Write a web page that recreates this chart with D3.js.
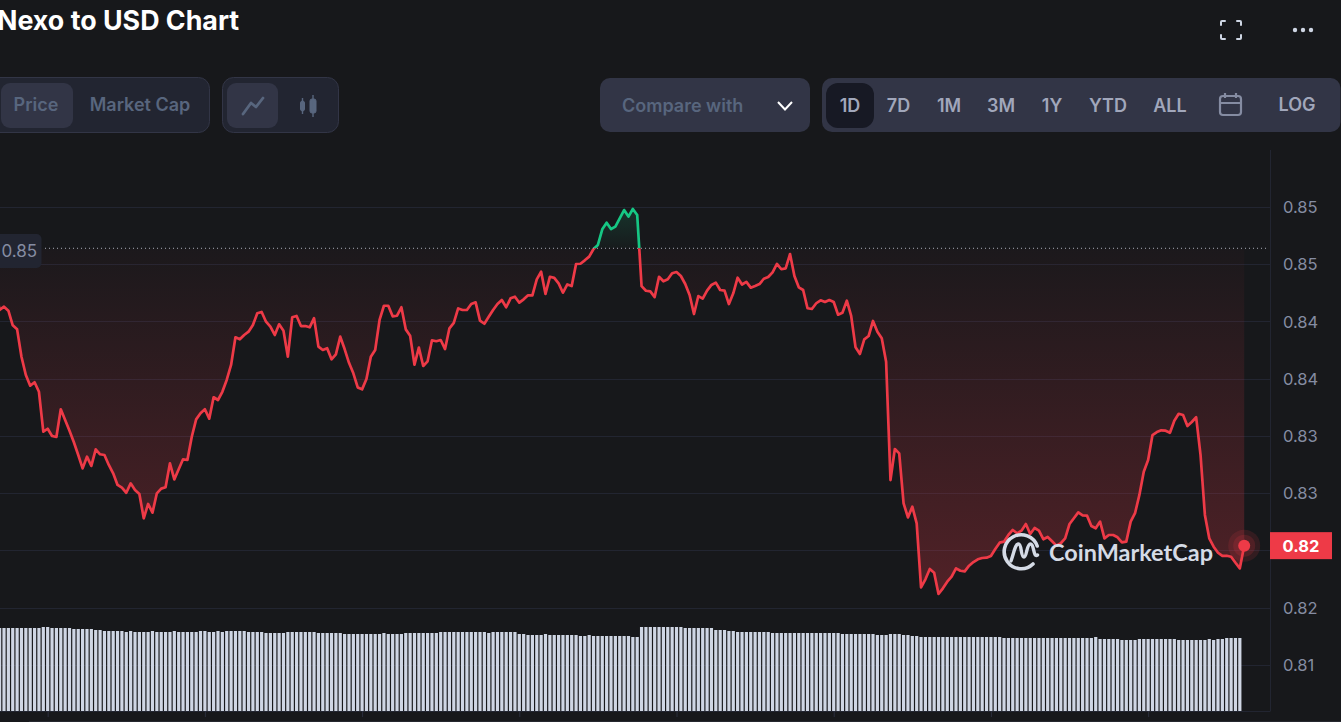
<!DOCTYPE html>
<html><head><meta charset="utf-8">
<script src="https://cdn.jsdelivr.net/npm/d3@7"></script>
<style>
html,body{margin:0;padding:0;background:#17181b;overflow:hidden}
svg{display:block;font-family:Inter,"Noto Sans",sans-serif}
</style></head><body><div id="chart"></div>
<script>
const chartTitle = "Nexo to USD Chart";
const metricLabels = ["Price", "Market Cap"];
const rangeLabels = ["1D", "7D", "1M", "3M", "1Y", "YTD", "ALL"];
const yTickValues = [0.85, 0.845, 0.84, 0.835, 0.83, 0.825, 0.82, 0.815, 0.81];
const yTickLabels = ["0.85", "0.85", "0.84", "0.84", "0.83", "0.83", "0.82", "0.82", "0.81"];
const xTickIndexes = [12, 48, 84, 120, 156, 192, 228, 264];
const baselinePrice = 0.84642;
const baselineLabel = "0.85";
const prices = [
.84278,.84103,.84132,.84097,.83969,.83934,.83695,.83535,.83442,.83472,
.83389,.83040,.83066,.83003,.82994,.83236,.83142,.83049,.82948,.82837,
.82720,.82822,.82741,.82886,.82843,.82837,.82750,.82677,.82575,.82551,
.82507,.82589,.82531,.82496,.82284,.82409,.82333,.82502,.82543,.82555,
.82764,.82624,.82712,.82799,.82793,.82996,.83148,.83201,.83236,.83154,
.83341,.83317,.83389,.83492,.83623,.83865,.83847,.83885,.83914,.83972,
.84074,.84086,.84001,.83957,.83885,.83978,.83922,.83695,.84039,.84051,
.83963,.83963,.83952,.84032,.83783,.83754,.83769,
.83672,.83716,.83870,.83762,.83642,.83550,.83427,.83410,.83500,.83695,.83754,
.84016,.84140,.84140,.84048,.84053,.84127,.83934,.83879,.83625,.83774,
.83614,.83655,.83838,.83830,.83841,.83762,.83943,.83990,.84117,.84103,
.84103,.84155,.84170,.84010,.83983,.84044,.84103,.84155,.84190,.84127,
.84205,.84219,.84167,.84196,.84231,.84231,.84371,.84437,.84243,.84393,
.84384,.84335,.84254,.84326,.84312,.84505,.84507,.84537,.84569,.84636,
.84671,.84808,.84866,.84810,.84831,.84904,.84976,.84919,.84985,.84933,
.84312,.84271,.84266,.84216,.84393,
.84354,.84371,.84424,.84435,.84400,.84330,.84234,.84068,.84225,.84202,
.84272,.84322,.84342,.84278,.84272,.84155,.84249,.84385,.84326,.84349,
.84298,.84313,.84330,.84376,.84391,.84432,.84505,.84459,.84467,.84592,
.84400,.84301,.84278,.84118,.84112,.84162,.84188,.84173,.84190,.84173,
.84062,.84079,.84184,.84051,.83777,.83719,.83847,.83876,.84007,.83914,
.83856,.83651,
.82618,.82889,.82851,.82415,.82292,.82385,.82240,.81681,.81751,.81841,
.81809,.81623,.81672,.81730,.81774,.81847,.81826,.81821,.81870,.81902,
.81926,.81937,.81940,.81955,.82016,.82071,.82080,.82138,.82182,.82153,
.82176,.82234,.82147,.82199,.82176,.82101,.82121,.82083,.82045,.82066,
.82109,.82234,.82284,.82336,.82310,.82307,.82217,.82197,.82255,.82109,
.82138,.82138,.82118,.82074,.82080,.82255,.82328,.82488,.82691,.82793,
.83011,.83037,.83052,.83049,.83031,.83136,.83197,.83186,.83090,.83125,
.83166,.82837,.82313,.82109,.82036,.81983,.81955,.81957,.81948,.81896,
.81847,.82045];
const volumes = [
83,83,83,83,83,83,83,83,83,83,83,84,84,83,83,83,83,83,82,82,82,82,82,81,81,
80,80,80,80,80,79,80,79,79,79,79,80,79,79,79,79,80,79,79,79,79,79,80,80,79,79,80,79,
80,80,80,80,80,79,79,79,79,78,78,78,78,78,79,79,79,79,79,79,79,78,78,78,78,78,78,
77,77,77,77,77,77,77,77,77,78,77,77,77,77,78,78,78,78,78,78,78,78,
79,79,79,79,79,79,79,79,79,79,79,78,79,79,79,79,79,79,77,77,76,76,76,76,77,
76,76,76,76,76,76,76,75,75,76,75,75,75,75,75,75,75,75,75,74,74,
84,84,84,84,84,84,84,84,84,84,83,83,83,83,83,83,83,81,81,81,80,80,
79,79,79,79,79,79,79,79,78,78,78,78,78,78,78,78,78,78,78,78,78,78,78,78,
77,77,77,77,77,77,77,77,76,76,76,77,77,77,76,76,75,75,
74,74,74,74,74,74,74,74,74,74,74,74,74,74,74,74,74,74,74,
73,73,73,73,73,73,73,73,73,73,73,73,73,73,73,73,73,73,73,73,73,74,
72,72,72,72,72,71,71,71,71,72,72,72,72,72,72,72,72,72,71,71,71,71,71,71,71,72,71,72,72,73,73,73,73];

const W = 1341, H = 722;
const BG = "#17181b", RED = "#ee3a47", GREEN = "#16c784", GRID = "#222531";
const x = d3.scaleLinear().domain([0, prices.length - 1]).range([-4.73, 1244.2]);
const y = d3.scaleLinear().domain([0.81, 0.85]).range([665.3, 207.3]);
const yVol = d3.scaleLinear().domain([0, 84]).range([711, 627]);
const PLOT_R = 1270.5, PLOT_B = 711, PLOT_T = 150;
const baseY = y(baselinePrice);

const svg = d3.select("#chart").append("svg").attr("width", W).attr("height", H);
svg.append("rect").attr("width", W).attr("height", H).attr("fill", BG);
const defs = svg.append("defs");

const gradRed = defs.append("linearGradient").attr("id", "gRed").attr("gradientUnits", "userSpaceOnUse")
  .attr("x1", 0).attr("x2", 0).attr("y1", baseY).attr("y2", y(d3.min(prices)));
gradRed.append("stop").attr("offset", 0).attr("stop-color", RED).attr("stop-opacity", 0.02);
gradRed.append("stop").attr("offset", 1).attr("stop-color", RED).attr("stop-opacity", 0.27);
const gradGreen = defs.append("linearGradient").attr("id", "gGreen").attr("gradientUnits", "userSpaceOnUse")
  .attr("x1", 0).attr("x2", 0).attr("y1", y(d3.max(prices))).attr("y2", baseY);
gradGreen.append("stop").attr("offset", 0).attr("stop-color", GREEN).attr("stop-opacity", 0.16);
gradGreen.append("stop").attr("offset", 1).attr("stop-color", GREEN).attr("stop-opacity", 0.02);
defs.append("clipPath").attr("id", "above").append("rect").attr("x", 0).attr("y", 0).attr("width", PLOT_R).attr("height", baseY);
defs.append("clipPath").attr("id", "below").append("rect").attr("x", 0).attr("y", baseY).attr("width", PLOT_R).attr("height", PLOT_B - baseY);

// grid
svg.append("g").selectAll("line").data(yTickValues).join("line")
  .attr("x1", 0).attr("x2", PLOT_R).attr("y1", d => Math.floor(y(d)) + 0.5).attr("y2", d => Math.floor(y(d)) + 0.5)
  .attr("stroke", GRID).attr("stroke-width", 1);

// plot frame
svg.append("line").attr("x1", PLOT_R).attr("x2", PLOT_R).attr("y1", PLOT_T).attr("y2", PLOT_B).attr("stroke", GRID);
svg.append("line").attr("x1", 0).attr("x2", PLOT_R).attr("y1", PLOT_B + 0.5).attr("y2", PLOT_B + 0.5).attr("stroke", GRID);
svg.append("line").attr("x1", 29).attr("x2", W).attr("y1", 721.5).attr("y2", 721.5).attr("stroke", "#26282f");

// y axis: the label at the last price sits under the price tag, so it is dropped
const lastI = prices.length - 1, lastP = prices[lastI];
const yAxis = d3.axisRight(y).tickValues(yTickValues).tickSize(0).tickPadding(0)
  .tickFormat((d, i) => yTickLabels[i]);
const gy = svg.append("g").attr("transform", "translate(1283,0)").call(yAxis);
gy.select(".domain").remove();
gy.selectAll(".tick").filter(d => Math.abs(y(d) - y(lastP)) < 14).remove();
gy.selectAll("text").attr("fill", "#858ca2").attr("font-size", 16.5).attr("font-family", "Inter");

// x axis ticks
const xAxis = d3.axisBottom(x).tickValues(xTickIndexes).tickSize(6).tickFormat("");
const gx = svg.append("g").attr("transform", `translate(0,${PLOT_B})`).call(xAxis);
gx.select(".domain").remove();
gx.selectAll("line").attr("stroke", "#2b2e3d");

// volume
svg.append("g").selectAll("rect").data(volumes).join("rect")
  .attr("x", (d, i) => x(i) - 1.6).attr("width", 3.2)
  .attr("y", d => yVol(d)).attr("height", d => PLOT_B - yVol(d))
  .attr("fill", "#cfd6e4");

// area + line
const area = d3.area().x((d, i) => x(i)).y0(baseY).y1(d => y(d));
const line = d3.line().x((d, i) => x(i)).y(d => y(d));
const lineClip = (id, fill, stroke) => {
  const g = svg.append("g").attr("clip-path", `url(#${id})`);
  g.append("path").datum(prices).attr("d", area).attr("fill", fill);
  return () => g.append("path").datum(prices).attr("d", line).attr("fill", "none")
    .attr("stroke", stroke).attr("stroke-width", 2.7).attr("stroke-linejoin", "round");
};
const drawA = lineClip("above", "url(#gGreen)", GREEN);
const drawB = lineClip("below", "url(#gRed)", RED);

// baseline
svg.append("line").attr("x1", 45).attr("x2", 1268).attr("y1", baseY).attr("y2", baseY)
  .attr("stroke", "#a9adb8").attr("stroke-width", 1).attr("stroke-dasharray", "1 3");
drawA(); drawB();
svg.append("rect").attr("x", -8).attr("y", 234).attr("width", 49.5).attr("height", 34).attr("rx", 5).attr("fill", GRID);
svg.append("text").attr("x", 1.5).attr("y", 251).attr("dy", "0.36em").attr("fill", "#858ca2")
  .attr("font-size", 17).text(baselineLabel);

// watermark
const wm = svg.append("g");
wm.append("path").attr("d", "M1037.2,546 A17,17 0 1 0 1033,564")
  .attr("fill", "none").attr("stroke", "#d5dbe6").attr("stroke-width", 3.6).attr("stroke-linecap", "round");
wm.append("path").attr("d", "M1011,561 C1014,553 1015,544 1018.5,544 C1022,544 1020.5,557 1024,557 C1027,557 1026.5,544 1030.5,544 C1034.5,544 1033,558 1037.5,555")
  .attr("fill", "none").attr("stroke", "#d5dbe6").attr("stroke-width", 3.4).attr("stroke-linecap", "round");
wm.append("text").attr("x", 1049).attr("y", 561).attr("fill", "#d5dbe6").attr("font-family", "Lato")
  .attr("font-weight", 700).attr("font-size", 23).attr("textLength", 164).attr("lengthAdjust", "spacingAndGlyphs").text("CoinMarketCap");

// last point
[[16, 0.13], [11, 0.16]].forEach(([r, o]) => svg.append("circle").attr("cx", x(lastI)).attr("cy", y(lastP)).attr("r", r).attr("fill", RED).attr("opacity", o));
svg.append("circle").attr("cx", x(lastI)).attr("cy", y(lastP)).attr("r", 6).attr("fill", RED);
svg.append("rect").attr("x", 1270).attr("y", y(lastP) - 13.5).attr("width", 62).attr("height", 27).attr("fill", RED);
svg.append("text").attr("x", 1301).attr("y", y(lastP)).attr("dy", "0.36em").attr("text-anchor", "middle")
  .attr("fill", "#fff").attr("font-weight", 700).attr("font-size", 16.5).text(d3.format(".2f")(lastP));

// header
svg.append("text").attr("x", -3).attr("y", 30).attr("fill", "#fff").attr("font-weight", 700).attr("font-size", 26.8).text(chartTitle);
const ico = svg.append("g").attr("fill", "none").attr("stroke", "#cfd6e4").attr("stroke-width", 2).attr("stroke-linecap", "round");
ico.append("path").attr("d", "M1221,25 V22 Q1221,21 1222,21 H1225 M1237,21 H1240 Q1241,21 1241,22 V25 M1241,35 V38 Q1241,39 1240,39 H1237 M1225,39 H1222 Q1221,39 1221,38 V35");
svg.append("g").attr("fill", "#cfd6e4").selectAll("circle").data([1295, 1303, 1311]).join("circle")
  .attr("cx", d => d).attr("cy", 30).attr("r", 2.2);

// toolbar
const rr = (xx, yy, w, h, r, fill, stroke) => svg.append("rect").attr("x", xx).attr("y", yy).attr("width", w).attr("height", h)
  .attr("rx", r).attr("fill", fill).attr("stroke", stroke || "none");
const label = (t, xx, yy, fill, anchor) => svg.append("text").attr("x", xx).attr("y", yy).attr("fill", fill)
  .attr("font-weight", 600).attr("font-size", 18).attr("text-anchor", anchor || "middle").text(t);
const MUTED = "#58667e", BTN = "#323546", SOFT = "#a1a7bb";

rr(-12, 77.5, 221.5, 55, 11, GRID, "#323546");
rr(1, 83, 72, 45, 9, BTN);
label(metricLabels[0], 36, 111, MUTED);
label(metricLabels[1], 140, 111, MUTED);

rr(222.5, 77.5, 116, 55, 11, GRID, "#323546");
rr(227, 83, 51, 45, 9, BTN);
svg.append("path").attr("d", "M243,114 L251,103 L256,107 L263,98").attr("fill", "none").attr("stroke", MUTED).attr("stroke-width", 2.8).attr("stroke-linecap", "round").attr("stroke-linejoin", "round");
const cd = svg.append("g").attr("fill", MUTED).attr("stroke", MUTED);
cd.append("rect").attr("x", 300.5).attr("y", 101).attr("width", 4).attr("height", 10).attr("rx", 2);
cd.append("line").attr("x1", 302.5).attr("x2", 302.5).attr("y1", 98).attr("y2", 114).attr("stroke-width", 1.4);
cd.append("rect").attr("x", 310).attr("y", 99).attr("width", 6).attr("height", 14).attr("rx", 2);
cd.append("line").attr("x1", 313).attr("x2", 313).attr("y1", 95).attr("y2", 117).attr("stroke-width", 1.4);

rr(600, 78, 210, 54, 10, BTN);
label("Compare with", 622, 112, MUTED, "start");
svg.append("path").attr("d", "M778,102 L785,109.5 L792,102").attr("fill", "none").attr("stroke", "#fff").attr("stroke-width", 2);

rr(822, 78, 518.5, 54, 10, BTN);
rr(826, 83, 48, 45, 12, "#171924");
const rangeCenters = [850, 898.5, 949, 1001, 1052, 1108, 1170];
rangeLabels.forEach((t, i) => label(t, rangeCenters[i], 112, SOFT));
label("LOG", 1297, 111, SOFT);
const cal = svg.append("g").attr("fill", "none").attr("stroke", "#858ca2").attr("stroke-width", 2.2);
cal.append("rect").attr("x", 1220).attr("y", 96).attr("width", 21).attr("height", 19).attr("rx", 3);
cal.append("path").attr("d", "M1220,103 H1241 M1225,93 V98 M1236,93 V98");
</script></body></html>
